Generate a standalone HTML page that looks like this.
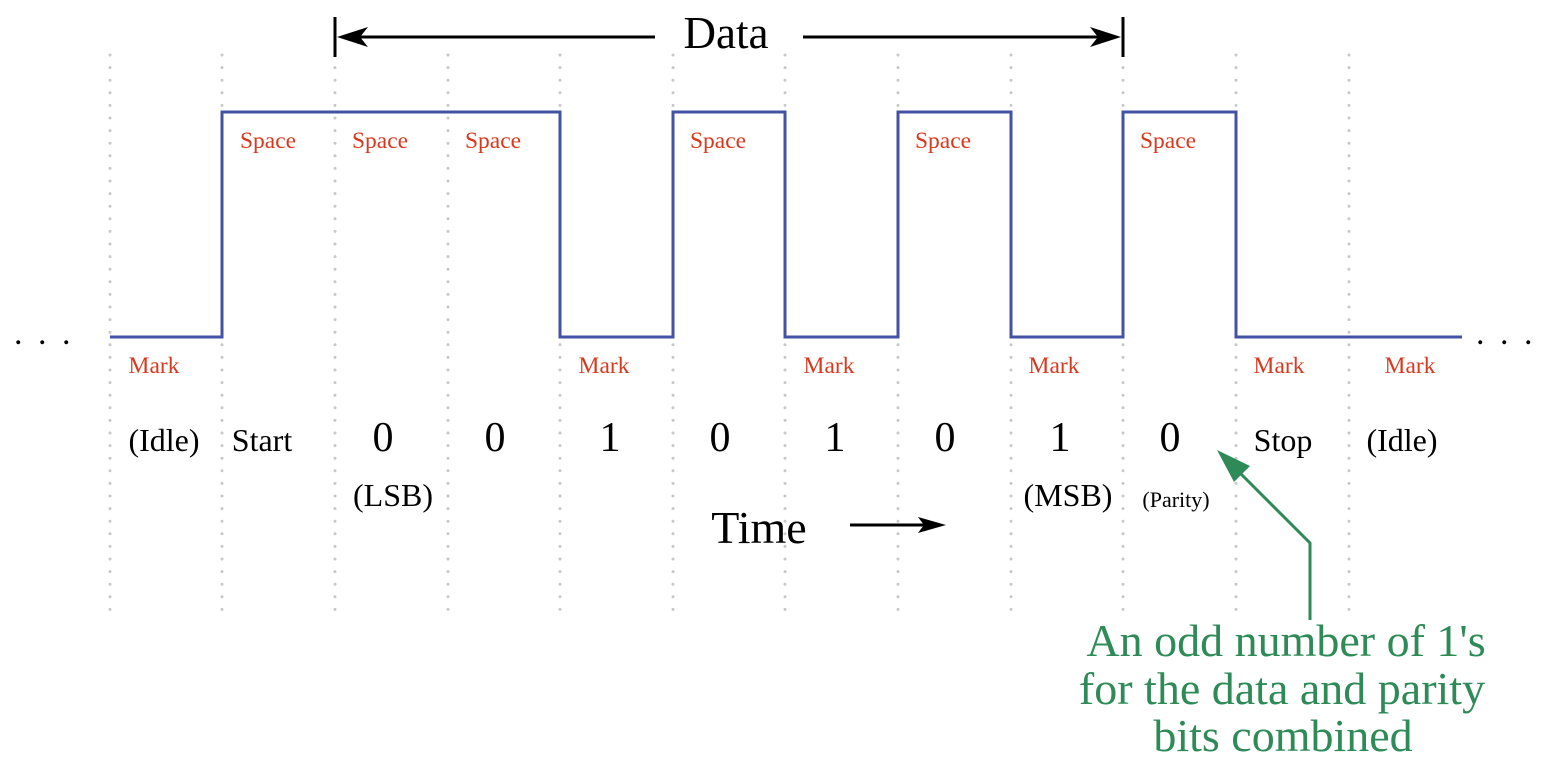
<!DOCTYPE html>
<html><head><style>body{margin:0;background:#fff}svg{display:block}</style></head><body>
<svg width="1563" height="767" viewBox="0 0 1563 767" xmlns="http://www.w3.org/2000/svg" font-family="Liberation Serif, serif">
<g stroke="#c8c8c8" stroke-width="3" stroke-dasharray="0 12.6" stroke-linecap="round">
<line x1="110" y1="55" x2="110" y2="622"/><line x1="222" y1="55" x2="222" y2="622"/>
<line x1="335" y1="55" x2="335" y2="622"/><line x1="448" y1="55" x2="448" y2="622"/>
<line x1="560" y1="55" x2="560" y2="622"/><line x1="673" y1="55" x2="673" y2="622"/>
<line x1="785" y1="55" x2="785" y2="622"/><line x1="898" y1="55" x2="898" y2="622"/>
<line x1="1011" y1="55" x2="1011" y2="622"/><line x1="1123" y1="55" x2="1123" y2="622"/>
<line x1="1236" y1="55" x2="1236" y2="622"/><line x1="1349" y1="55" x2="1349" y2="622"/>
</g>
<polyline fill="none" stroke="#4352a3" stroke-width="3" points="110,337 222,337 222,112 560,112 560,337 673,337 673,112 785,112 785,337 898,337 898,112 1011,112 1011,337 1123,337 1123,112 1236,112 1236,337 1462,337"/>
<g stroke="#000" stroke-width="3">
<line x1="335" y1="17" x2="335" y2="57"/><line x1="345" y1="37" x2="655" y2="37"/>
<line x1="1123" y1="17" x2="1123" y2="57"/><line x1="803" y1="37" x2="1113" y2="37"/>
<line x1="850" y1="525" x2="925" y2="525"/>
</g>
<polygon points="337,37 368,27 360,37 368,47"/>
<polygon points="1121,37 1090,27 1098,37 1090,47"/>
<polygon points="946,525 918,517 924,525 918,533"/>
<text x="726" y="48" font-size="45" text-anchor="middle">Data</text>
<text x="759" y="543" font-size="46" text-anchor="middle">Time</text>
<g font-size="34">
<text x="14" y="344">.</text><text x="38" y="344">.</text><text x="62" y="344">.</text>
<text x="1476" y="344">.</text><text x="1500" y="344">.</text><text x="1524" y="344">.</text>
</g>
<g fill="#d8381e" font-size="23.5" text-anchor="middle">
<text x="268" y="148">Space</text><text x="380" y="148">Space</text><text x="493" y="148">Space</text>
<text x="718" y="148">Space</text><text x="943" y="148">Space</text><text x="1168" y="148">Space</text>
<text x="154" y="373">Mark</text><text x="604" y="373">Mark</text><text x="829" y="373">Mark</text>
<text x="1054" y="373">Mark</text><text x="1279" y="373">Mark</text><text x="1410" y="373">Mark</text>
</g>
<g font-size="32" text-anchor="middle">
<text x="164" y="451">(Idle)</text><text x="262" y="451">Start</text>
<text x="1283" y="451">Stop</text><text x="1402" y="451">(Idle)</text>
<text x="393" y="506">(LSB)</text><text x="1068" y="506">(MSB)</text>
<text x="1176" y="507" font-size="22">(Parity)</text>
</g>
<g font-size="42" text-anchor="middle">
<text x="383" y="451">0</text><text x="495" y="451">0</text><text x="610" y="451">1</text>
<text x="720" y="451">0</text><text x="835" y="451">1</text><text x="945" y="451">0</text>
<text x="1060" y="451">1</text><text x="1170" y="451">0</text>
</g>
<polyline fill="none" stroke="#2e8b57" stroke-width="3" points="1310,620 1310,543 1230,463"/>
<polygon fill="#2e8b57" points="1217,450 1250,466 1234,482"/>
<g fill="#2e8b57" font-size="46" text-anchor="middle">
<text x="1286" y="656">An odd number of 1's</text>
<text x="1282" y="704">for the data and parity</text>
<text x="1283" y="751">bits combined</text>
</g>
</svg>
</body></html>
